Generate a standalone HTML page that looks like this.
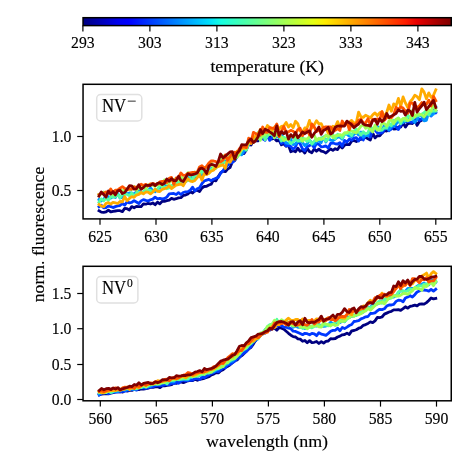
<!DOCTYPE html>
<html lang="en"><head><meta charset="utf-8"><title>NV fluorescence spectra</title>
<style>html,body{margin:0;padding:0;background:#fff}svg{display:block}</style></head>
<body>
<svg width="469" height="469" viewBox="0 0 469 469" font-family='"Liberation Serif", serif' font-size="16" fill="#000"><style>text{stroke:#000;stroke-width:0.15px}</style>
<rect width="469" height="469" fill="#fff"/>
<defs><linearGradient id="jet" x1="0" y1="0" x2="1" y2="0"><stop offset="0.00%" stop-color="#000080"/><stop offset="3.12%" stop-color="#0000a4"/><stop offset="6.25%" stop-color="#0000c8"/><stop offset="9.38%" stop-color="#0000ed"/><stop offset="12.50%" stop-color="#0000ff"/><stop offset="15.62%" stop-color="#0020ff"/><stop offset="18.75%" stop-color="#0040ff"/><stop offset="21.88%" stop-color="#0060ff"/><stop offset="25.00%" stop-color="#0080ff"/><stop offset="28.12%" stop-color="#00a0ff"/><stop offset="31.25%" stop-color="#00c0ff"/><stop offset="34.38%" stop-color="#00e0fb"/><stop offset="37.50%" stop-color="#16ffe1"/><stop offset="40.62%" stop-color="#30ffc7"/><stop offset="43.75%" stop-color="#49ffad"/><stop offset="46.88%" stop-color="#63ff94"/><stop offset="50.00%" stop-color="#7dff7a"/><stop offset="53.12%" stop-color="#97ff60"/><stop offset="56.25%" stop-color="#b1ff46"/><stop offset="59.38%" stop-color="#caff2c"/><stop offset="62.50%" stop-color="#e4ff13"/><stop offset="65.62%" stop-color="#feed00"/><stop offset="68.75%" stop-color="#ffd000"/><stop offset="71.88%" stop-color="#ffb200"/><stop offset="75.00%" stop-color="#ff9400"/><stop offset="78.12%" stop-color="#ff7700"/><stop offset="81.25%" stop-color="#ff5900"/><stop offset="84.38%" stop-color="#ff3b00"/><stop offset="87.50%" stop-color="#ff1e00"/><stop offset="90.62%" stop-color="#e80000"/><stop offset="93.75%" stop-color="#c40000"/><stop offset="96.88%" stop-color="#9f0000"/><stop offset="100.00%" stop-color="#800000"/></linearGradient></defs>
<rect x="83.05" y="17.7" width="368.2" height="7.9" fill="url(#jet)" stroke="#000" stroke-width="1.5"/>
<line x1="82.9" x2="82.9" y1="25.55" y2="31.4" stroke="#000" stroke-width="1.2"/>
<text x="82.9" y="48.2" text-anchor="middle" textLength="23.6" lengthAdjust="spacingAndGlyphs">293</text>
<line x1="149.9" x2="149.9" y1="25.55" y2="31.4" stroke="#000" stroke-width="1.2"/>
<text x="149.9" y="48.2" text-anchor="middle" textLength="23.6" lengthAdjust="spacingAndGlyphs">303</text>
<line x1="216.9" x2="216.9" y1="25.55" y2="31.4" stroke="#000" stroke-width="1.2"/>
<text x="216.9" y="48.2" text-anchor="middle" textLength="23.6" lengthAdjust="spacingAndGlyphs">313</text>
<line x1="283.9" x2="283.9" y1="25.55" y2="31.4" stroke="#000" stroke-width="1.2"/>
<text x="283.9" y="48.2" text-anchor="middle" textLength="23.6" lengthAdjust="spacingAndGlyphs">323</text>
<line x1="350.9" x2="350.9" y1="25.55" y2="31.4" stroke="#000" stroke-width="1.2"/>
<text x="350.9" y="48.2" text-anchor="middle" textLength="23.6" lengthAdjust="spacingAndGlyphs">333</text>
<line x1="417.9" x2="417.9" y1="25.55" y2="31.4" stroke="#000" stroke-width="1.2"/>
<text x="417.9" y="48.2" text-anchor="middle" textLength="23.6" lengthAdjust="spacingAndGlyphs">343</text>
<text x="267.2" y="71.6" text-anchor="middle" textLength="113.6" lengthAdjust="spacingAndGlyphs">temperature (K)</text>
<line x1="100.0" x2="100.0" y1="218.85" y2="224.7" stroke="#000" stroke-width="1.2"/>
<text x="100.0" y="241.7" text-anchor="middle" textLength="23.6" lengthAdjust="spacingAndGlyphs">625</text>
<line x1="156.0" x2="156.0" y1="218.85" y2="224.7" stroke="#000" stroke-width="1.2"/>
<text x="156.0" y="241.7" text-anchor="middle" textLength="23.6" lengthAdjust="spacingAndGlyphs">630</text>
<line x1="211.9" x2="211.9" y1="218.85" y2="224.7" stroke="#000" stroke-width="1.2"/>
<text x="211.9" y="241.7" text-anchor="middle" textLength="23.6" lengthAdjust="spacingAndGlyphs">635</text>
<line x1="267.9" x2="267.9" y1="218.85" y2="224.7" stroke="#000" stroke-width="1.2"/>
<text x="267.9" y="241.7" text-anchor="middle" textLength="23.6" lengthAdjust="spacingAndGlyphs">640</text>
<line x1="323.9" x2="323.9" y1="218.85" y2="224.7" stroke="#000" stroke-width="1.2"/>
<text x="323.9" y="241.7" text-anchor="middle" textLength="23.6" lengthAdjust="spacingAndGlyphs">645</text>
<line x1="379.8" x2="379.8" y1="218.85" y2="224.7" stroke="#000" stroke-width="1.2"/>
<text x="379.8" y="241.7" text-anchor="middle" textLength="23.6" lengthAdjust="spacingAndGlyphs">650</text>
<line x1="435.8" x2="435.8" y1="218.85" y2="224.7" stroke="#000" stroke-width="1.2"/>
<text x="435.8" y="241.7" text-anchor="middle" textLength="23.6" lengthAdjust="spacingAndGlyphs">655</text>
<line x1="77.2" x2="83.05" y1="190.5" y2="190.5" stroke="#000" stroke-width="1.2"/>
<text x="71.4" y="196.1" text-anchor="end" textLength="19.6" lengthAdjust="spacingAndGlyphs">0.5</text>
<line x1="77.2" x2="83.05" y1="136.5" y2="136.5" stroke="#000" stroke-width="1.2"/>
<text x="71.4" y="142.1" text-anchor="end" textLength="19.6" lengthAdjust="spacingAndGlyphs">1.0</text>
<clipPath id="c1"><rect x="83.05" y="84.3" width="368.2" height="134.6"/></clipPath>
<g clip-path="url(#c1)">
<polyline points="99.0,210.8 101.3,212.1 103.7,212.4 106.0,211.9 108.4,210.1 110.7,211.9 113.0,211.3 115.4,211.0 117.7,210.7 120.0,210.7 122.4,211.6 124.7,208.4 127.1,208.7 129.4,210.0 131.7,206.6 134.1,207.8 136.4,206.4 138.8,206.6 141.1,206.7 143.4,203.8 145.8,204.2 148.1,203.3 150.5,204.0 152.8,203.0 155.1,204.7 157.5,202.1 159.8,203.9 162.2,201.3 164.5,201.4 166.8,200.7 169.2,200.1 171.5,198.4 173.8,199.3 176.2,198.7 178.5,197.9 180.9,197.7 183.2,195.4 185.5,195.1 187.9,193.9 190.2,191.8 192.6,193.0 194.9,190.8 197.2,190.2 199.6,191.6 201.9,188.0 204.2,186.5 206.6,186.3 208.9,185.0 211.3,184.2 213.6,179.7 215.9,180.9 218.3,176.4 220.6,172.9 223.0,171.1 225.3,171.7 227.6,169.1 230.0,167.6 232.3,162.0 234.7,160.5 237.0,156.7 239.3,153.0 241.7,153.7 244.0,153.5 246.3,149.9 248.7,144.0 251.0,145.1 253.4,140.3 255.7,140.8 258.0,140.8 260.4,137.7 262.7,136.1 265.1,138.4 267.4,136.7 269.7,136.1 272.1,139.0 274.4,138.5 276.8,140.9 279.1,140.1 281.4,144.8 283.8,143.7 286.1,146.3 288.5,145.3 290.8,151.7 293.1,150.7 295.5,151.8 297.8,148.2 300.1,151.3 302.5,150.3 304.8,153.0 307.2,148.4 309.5,151.6 311.8,152.7 314.2,149.0 316.5,151.2 318.9,149.2 321.2,151.1 323.5,151.6 325.9,153.1 328.2,150.9 330.6,149.0 332.9,150.4 335.2,148.7 337.6,149.6 339.9,145.8 342.2,148.1 344.6,145.1 346.9,144.3 349.3,144.7 351.6,141.2 353.9,140.5 356.3,141.6 358.6,139.8 361.0,139.4 363.3,137.8 365.6,137.3 368.0,138.8 370.3,140.1 372.7,133.2 375.0,137.9 377.3,135.7 379.7,135.9 382.0,133.2 384.3,130.7 386.7,131.0 389.0,128.9 391.4,126.7 393.7,129.0 396.0,128.9 398.4,127.0 400.7,127.1 403.1,122.8 405.4,127.1 407.7,123.8 410.1,123.2 412.4,123.6 414.8,119.9 417.1,125.4 419.4,121.5 421.8,120.3 424.1,116.9 426.4,113.8 428.8,115.1 431.1,111.2 433.5,112.0 435.8,110.6" fill="none" stroke="#000080" stroke-width="2.8" stroke-linejoin="round" stroke-linecap="square"/>
<polyline points="99.0,206.9 101.3,205.2 103.7,207.8 106.0,207.6 108.4,206.1 110.7,206.5 113.0,207.6 115.4,206.6 117.7,205.9 120.0,205.5 122.4,203.5 124.7,205.1 127.1,201.9 129.4,202.9 131.7,202.4 134.1,200.6 136.4,202.0 138.8,203.5 141.1,200.9 143.4,199.6 145.8,200.4 148.1,201.0 150.5,199.8 152.8,199.1 155.1,197.1 157.5,198.8 159.8,198.3 162.2,198.8 164.5,198.5 166.8,197.1 169.2,193.9 171.5,193.6 173.8,193.5 176.2,194.5 178.5,192.6 180.9,194.5 183.2,192.5 185.5,191.9 187.9,191.6 190.2,190.3 192.6,187.2 194.9,191.0 197.2,188.8 199.6,187.8 201.9,183.7 204.2,181.0 206.6,180.1 208.9,179.4 211.3,180.7 213.6,179.2 215.9,178.3 218.3,177.4 220.6,173.1 223.0,170.7 225.3,167.6 227.6,165.5 230.0,162.1 232.3,162.6 234.7,160.1 237.0,156.7 239.3,153.7 241.7,153.6 244.0,152.4 246.3,147.4 248.7,145.1 251.0,141.2 253.4,140.3 255.7,139.3 258.0,138.6 260.4,137.4 262.7,138.8 265.1,140.2 267.4,135.6 269.7,140.4 272.1,137.3 274.4,138.0 276.8,135.5 279.1,136.1 281.4,143.4 283.8,141.1 286.1,145.8 288.5,145.4 290.8,146.6 293.1,149.2 295.5,146.9 297.8,141.0 300.1,143.8 302.5,148.8 304.8,150.6 307.2,146.7 309.5,145.6 311.8,144.3 314.2,147.8 316.5,143.4 318.9,144.4 321.2,146.8 323.5,146.7 325.9,145.9 328.2,148.1 330.6,143.4 332.9,143.0 335.2,143.8 337.6,144.0 339.9,142.6 342.2,146.3 344.6,140.5 346.9,142.2 349.3,139.1 351.6,140.2 353.9,138.1 356.3,137.6 358.6,141.0 361.0,136.5 363.3,140.0 365.6,134.5 368.0,134.5 370.3,137.0 372.7,129.1 375.0,130.1 377.3,132.8 379.7,133.1 382.0,132.6 384.3,129.9 386.7,126.8 389.0,130.7 391.4,129.1 393.7,124.9 396.0,126.6 398.4,129.5 400.7,124.9 403.1,121.2 405.4,122.0 407.7,121.3 410.1,122.0 412.4,122.5 414.8,117.5 417.1,117.3 419.4,120.3 421.8,118.8 424.1,119.4 426.4,112.0 428.8,112.3 431.1,116.1 433.5,110.6 435.8,112.8" fill="none" stroke="#0038ff" stroke-width="2.8" stroke-linejoin="round" stroke-linecap="square"/>
<polyline points="99.0,199.5 101.3,201.0 103.7,199.2 106.0,196.4 108.4,196.6 110.7,198.0 113.0,196.5 115.4,197.6 117.7,193.4 120.0,198.0 122.4,197.3 124.7,192.8 127.1,193.8 129.4,193.0 131.7,192.9 134.1,194.2 136.4,191.8 138.8,190.9 141.1,192.5 143.4,192.9 145.8,190.1 148.1,190.6 150.5,187.9 152.8,190.6 155.1,191.9 157.5,189.1 159.8,187.7 162.2,184.4 164.5,186.3 166.8,183.3 169.2,186.7 171.5,187.6 173.8,186.5 176.2,184.1 178.5,183.9 180.9,181.6 183.2,182.2 185.5,181.5 187.9,180.3 190.2,175.4 192.6,179.0 194.9,178.4 197.2,175.5 199.6,176.4 201.9,176.0 204.2,170.1 206.6,174.0 208.9,170.6 211.3,168.4 213.6,169.4 215.9,166.7 218.3,165.9 220.6,163.7 223.0,163.0 225.3,160.6 227.6,160.3 230.0,157.9 232.3,155.9 234.7,158.9 237.0,155.3 239.3,154.3 241.7,154.8 244.0,150.3 246.3,146.2 248.7,141.2 251.0,142.8 253.4,140.3 255.7,140.3 258.0,136.6 260.4,135.0 262.7,130.2 265.1,135.5 267.4,130.5 269.7,132.9 272.1,135.5 274.4,135.2 276.8,135.8 279.1,138.0 281.4,134.2 283.8,139.3 286.1,143.0 288.5,143.7 290.8,138.9 293.1,144.6 295.5,143.8 297.8,140.8 300.1,140.0 302.5,142.5 304.8,145.6 307.2,143.6 309.5,140.4 311.8,142.5 314.2,144.4 316.5,141.8 318.9,140.8 321.2,142.6 323.5,136.9 325.9,142.1 328.2,137.9 330.6,140.2 332.9,140.7 335.2,139.0 337.6,137.1 339.9,137.2 342.2,139.2 344.6,133.8 346.9,134.1 349.3,136.2 351.6,136.7 353.9,134.4 356.3,132.7 358.6,135.0 361.0,132.1 363.3,137.2 365.6,135.1 368.0,135.9 370.3,128.9 372.7,129.5 375.0,129.4 377.3,126.6 379.7,127.7 382.0,130.6 384.3,125.3 386.7,126.3 389.0,129.9 391.4,126.3 393.7,126.0 396.0,124.1 398.4,121.8 400.7,121.7 403.1,122.5 405.4,119.7 407.7,120.6 410.1,118.7 412.4,119.0 414.8,122.5 417.1,119.5 419.4,114.1 421.8,116.3 424.1,120.9 426.4,120.3 428.8,112.1 431.1,115.6 433.5,114.0 435.8,106.9" fill="none" stroke="#0094ff" stroke-width="2.8" stroke-linejoin="round" stroke-linecap="square"/>
<polyline points="99.0,202.3 101.3,198.8 103.7,200.8 106.0,198.0 108.4,200.4 110.7,196.6 113.0,197.2 115.4,196.8 117.7,194.4 120.0,197.8 122.4,194.1 124.7,194.0 127.1,194.4 129.4,195.7 131.7,193.1 134.1,196.4 136.4,193.2 138.8,192.4 141.1,192.9 143.4,191.6 145.8,189.9 148.1,190.1 150.5,190.5 152.8,192.0 155.1,189.6 157.5,189.3 159.8,184.8 162.2,187.1 164.5,186.8 166.8,188.8 169.2,187.9 171.5,185.1 173.8,185.0 176.2,183.4 178.5,181.7 180.9,182.1 183.2,180.7 185.5,181.0 187.9,180.7 190.2,178.4 192.6,179.5 194.9,174.9 197.2,175.8 199.6,175.1 201.9,170.6 204.2,173.7 206.6,172.8 208.9,173.4 211.3,169.3 213.6,169.3 215.9,168.3 218.3,163.1 220.6,165.4 223.0,161.0 225.3,162.9 227.6,162.4 230.0,160.1 232.3,154.1 234.7,159.4 237.0,155.4 239.3,155.1 241.7,149.6 244.0,147.7 246.3,150.2 248.7,142.7 251.0,139.7 253.4,138.0 255.7,139.9 258.0,132.8 260.4,134.6 262.7,132.4 265.1,139.7 267.4,136.1 269.7,133.8 272.1,134.5 274.4,134.0 276.8,134.2 279.1,135.7 281.4,141.1 283.8,137.3 286.1,138.3 288.5,140.4 290.8,143.6 293.1,141.9 295.5,138.6 297.8,141.1 300.1,141.0 302.5,138.0 304.8,139.2 307.2,141.5 309.5,139.6 311.8,144.2 314.2,141.1 316.5,139.1 318.9,139.8 321.2,137.7 323.5,138.1 325.9,141.1 328.2,138.8 330.6,134.2 332.9,135.0 335.2,138.8 337.6,134.3 339.9,135.5 342.2,138.1 344.6,134.4 346.9,133.6 349.3,132.8 351.6,135.7 353.9,131.0 356.3,129.2 358.6,131.9 361.0,135.1 363.3,131.6 365.6,134.0 368.0,132.8 370.3,126.6 372.7,129.0 375.0,128.1 377.3,127.8 379.7,130.2 382.0,130.1 384.3,127.8 386.7,128.2 389.0,123.0 391.4,125.8 393.7,120.3 396.0,121.2 398.4,118.1 400.7,123.7 403.1,118.7 405.4,121.0 407.7,114.9 410.1,118.2 412.4,119.0 414.8,116.5 417.1,116.0 419.4,115.3 421.8,114.1 424.1,112.6 426.4,110.6 428.8,115.0 431.1,111.6 433.5,111.2 435.8,111.2" fill="none" stroke="#56ffa0" stroke-width="2.8" stroke-linejoin="round" stroke-linecap="square"/>
<polyline points="99.0,194.5 101.3,194.1 103.7,192.0 106.0,192.6 108.4,192.2 110.7,191.9 113.0,194.7 115.4,190.7 117.7,190.3 120.0,189.6 122.4,191.5 124.7,188.9 127.1,189.0 129.4,190.1 131.7,189.5 134.1,186.5 136.4,190.4 138.8,187.6 141.1,188.3 143.4,186.9 145.8,188.7 148.1,185.0 150.5,184.1 152.8,185.3 155.1,186.4 157.5,183.7 159.8,184.7 162.2,185.2 164.5,179.9 166.8,183.9 169.2,183.0 171.5,179.7 173.8,179.8 176.2,178.5 178.5,180.1 180.9,176.9 183.2,178.4 185.5,179.0 187.9,172.6 190.2,175.6 192.6,173.7 194.9,172.0 197.2,172.7 199.6,170.6 201.9,166.8 204.2,167.5 206.6,167.5 208.9,165.0 211.3,162.8 213.6,169.1 215.9,166.1 218.3,164.8 220.6,161.3 223.0,155.8 225.3,158.3 227.6,158.8 230.0,155.6 232.3,154.2 234.7,155.0 237.0,157.5 239.3,152.2 241.7,150.1 244.0,145.9 246.3,148.5 248.7,143.4 251.0,140.2 253.4,137.9 255.7,136.0 258.0,136.8 260.4,140.3 262.7,134.5 265.1,135.1 267.4,131.6 269.7,134.3 272.1,130.2 274.4,137.9 276.8,133.6 279.1,136.8 281.4,136.7 283.8,140.6 286.1,139.3 288.5,140.0 290.8,135.1 293.1,136.7 295.5,136.8 297.8,136.9 300.1,137.1 302.5,141.3 304.8,138.8 307.2,138.9 309.5,136.5 311.8,136.3 314.2,135.1 316.5,140.8 318.9,138.3 321.2,139.5 323.5,138.2 325.9,135.1 328.2,136.9 330.6,131.4 332.9,137.9 335.2,135.7 337.6,135.6 339.9,134.7 342.2,135.4 344.6,132.7 346.9,132.7 349.3,130.4 351.6,131.0 353.9,131.9 356.3,133.0 358.6,129.3 361.0,126.2 363.3,124.6 365.6,128.3 368.0,126.6 370.3,129.6 372.7,131.9 375.0,125.1 377.3,130.1 379.7,129.3 382.0,122.9 384.3,123.6 386.7,126.0 389.0,121.1 391.4,119.8 393.7,123.8 396.0,119.2 398.4,118.1 400.7,120.9 403.1,118.6 405.4,118.2 407.7,120.8 410.1,119.7 412.4,110.5 414.8,117.3 417.1,114.0 419.4,114.2 421.8,114.9 424.1,117.1 426.4,113.5 428.8,110.1 431.1,111.0 433.5,104.6 435.8,110.0" fill="none" stroke="#a0ff56" stroke-width="2.8" stroke-linejoin="round" stroke-linecap="square"/>
<polyline points="99.0,204.5 101.3,206.0 103.7,206.6 106.0,203.4 108.4,202.7 110.7,204.1 113.0,202.3 115.4,202.9 117.7,203.5 120.0,201.5 122.4,201.8 124.7,196.5 127.1,200.7 129.4,198.4 131.7,196.7 134.1,197.3 136.4,195.1 138.8,194.4 141.1,192.4 143.4,193.8 145.8,192.0 148.1,192.1 150.5,193.9 152.8,192.0 155.1,189.2 157.5,191.3 159.8,191.5 162.2,189.3 164.5,188.7 166.8,187.8 169.2,185.7 171.5,188.5 173.8,186.8 176.2,185.2 178.5,184.6 180.9,183.7 183.2,185.8 185.5,181.9 187.9,178.7 190.2,181.1 192.6,181.6 194.9,180.4 197.2,177.6 199.6,174.4 201.9,180.3 204.2,173.7 206.6,174.7 208.9,173.1 211.3,171.0 213.6,170.2 215.9,167.5 218.3,166.4 220.6,165.6 223.0,164.7 225.3,168.4 227.6,159.5 230.0,162.3 232.3,158.3 234.7,155.4 237.0,151.1 239.3,152.2 241.7,147.8 244.0,148.6 246.3,146.4 248.7,140.1 251.0,143.6 253.4,137.9 255.7,136.0 258.0,133.9 260.4,129.3 262.7,130.6 265.1,130.4 267.4,125.5 269.7,127.6 272.1,130.4 274.4,127.2 276.8,124.9 279.1,129.1 281.4,126.4 283.8,125.8 286.1,122.5 288.5,127.1 290.8,124.5 293.1,127.7 295.5,121.2 297.8,123.7 300.1,131.1 302.5,131.9 304.8,128.0 307.2,127.7 309.5,120.4 311.8,128.2 314.2,124.9 316.5,120.7 318.9,123.9 321.2,123.7 323.5,128.6 325.9,127.2 328.2,133.3 330.6,130.5 332.9,126.2 335.2,127.1 337.6,121.6 339.9,127.0 342.2,123.0 344.6,123.9 346.9,123.8 349.3,122.3 351.6,120.4 353.9,123.1 356.3,122.5 358.6,112.1 361.0,116.9 363.3,117.4 365.6,115.3 368.0,116.6 370.3,117.8 372.7,114.8 375.0,112.9 377.3,115.7 379.7,112.8 382.0,111.8 384.3,116.5 386.7,112.5 389.0,105.0 391.4,111.3 393.7,103.9 396.0,105.9 398.4,98.4 400.7,106.4 403.1,96.9 405.4,102.9 407.7,107.3 410.1,101.8 412.4,99.2 414.8,95.2 417.1,96.7 419.4,99.7 421.8,88.9 424.1,92.1 426.4,98.8 428.8,92.9 431.1,97.3 433.5,95.2 435.8,89.8" fill="none" stroke="#ffab00" stroke-width="2.8" stroke-linejoin="round" stroke-linecap="square"/>
<polyline points="99.0,194.6 101.3,193.3 103.7,193.3 106.0,191.8 108.4,193.3 110.7,188.9 113.0,192.9 115.4,190.2 117.7,190.0 120.0,188.1 122.4,186.7 124.7,188.3 127.1,189.9 129.4,188.7 131.7,189.3 134.1,187.0 136.4,187.3 138.8,186.3 141.1,184.2 143.4,185.4 145.8,184.3 148.1,186.1 150.5,183.8 152.8,183.6 155.1,184.1 157.5,184.3 159.8,181.9 162.2,181.4 164.5,181.4 166.8,182.5 169.2,178.3 171.5,177.4 173.8,184.4 176.2,178.0 178.5,177.8 180.9,173.0 183.2,175.4 185.5,175.2 187.9,173.4 190.2,172.8 192.6,172.3 194.9,172.3 197.2,172.4 199.6,166.9 201.9,165.6 204.2,168.3 206.6,166.4 208.9,163.0 211.3,160.8 213.6,161.0 215.9,161.6 218.3,161.9 220.6,161.8 223.0,160.1 225.3,154.9 227.6,160.2 230.0,156.6 232.3,153.5 234.7,152.2 237.0,153.5 239.3,148.8 241.7,147.4 244.0,146.5 246.3,147.8 248.7,138.2 251.0,142.4 253.4,132.3 255.7,133.6 258.0,134.7 260.4,135.1 262.7,127.0 265.1,132.2 267.4,132.3 269.7,127.6 272.1,128.1 274.4,128.6 276.8,123.9 279.1,136.6 281.4,131.3 283.8,126.4 286.1,132.0 288.5,131.9 290.8,130.3 293.1,131.3 295.5,133.6 297.8,129.6 300.1,128.2 302.5,135.7 304.8,131.8 307.2,129.4 309.5,135.0 311.8,123.8 314.2,126.8 316.5,131.6 318.9,130.1 321.2,130.1 323.5,127.4 325.9,126.9 328.2,126.9 330.6,127.0 332.9,129.7 335.2,130.3 337.6,128.6 339.9,130.5 342.2,121.0 344.6,125.1 346.9,121.9 349.3,129.7 351.6,123.3 353.9,125.3 356.3,123.6 358.6,120.2 361.0,119.2 363.3,122.9 365.6,123.0 368.0,118.7 370.3,125.0 372.7,119.1 375.0,120.9 377.3,118.8 379.7,120.0 382.0,111.7 384.3,120.4 386.7,117.6 389.0,116.8 391.4,117.6 393.7,114.9 396.0,107.4 398.4,109.5 400.7,106.9 403.1,108.1 405.4,111.0 407.7,113.2 410.1,103.0 412.4,103.2 414.8,106.4 417.1,107.4 419.4,105.8 421.8,102.6 424.1,105.1 426.4,104.3 428.8,100.1 431.1,106.0 433.5,96.5 435.8,100.8" fill="none" stroke="#ff5500" stroke-width="2.8" stroke-linejoin="round" stroke-linecap="square"/>
<polyline points="99.0,196.2 101.3,192.0 103.7,194.5 106.0,197.1 108.4,191.0 110.7,194.1 113.0,191.6 115.4,194.9 117.7,190.8 120.0,190.1 122.4,193.6 124.7,192.5 127.1,189.1 129.4,185.7 131.7,185.8 134.1,189.2 136.4,188.8 138.8,184.8 141.1,189.3 143.4,187.6 145.8,185.1 148.1,185.4 150.5,185.5 152.8,183.6 155.1,185.6 157.5,183.4 159.8,182.9 162.2,184.6 164.5,183.2 166.8,178.9 169.2,181.3 171.5,178.7 173.8,180.6 176.2,180.6 178.5,176.3 180.9,180.5 183.2,181.5 185.5,177.8 187.9,173.8 190.2,174.8 192.6,174.7 194.9,174.0 197.2,173.0 199.6,168.9 201.9,168.1 204.2,169.7 206.6,173.6 208.9,166.2 211.3,164.4 213.6,164.8 215.9,166.4 218.3,161.4 220.6,154.0 223.0,157.8 225.3,156.2 227.6,154.1 230.0,152.0 232.3,151.7 234.7,159.4 237.0,153.4 239.3,150.6 241.7,144.7 244.0,144.9 246.3,144.8 248.7,141.0 251.0,138.9 253.4,142.6 255.7,140.6 258.0,137.0 260.4,129.6 262.7,133.7 265.1,129.3 267.4,130.2 269.7,131.9 272.1,133.5 274.4,135.7 276.8,125.8 279.1,135.3 281.4,131.7 283.8,133.7 286.1,131.4 288.5,139.1 290.8,134.6 293.1,137.2 295.5,132.4 297.8,137.8 300.1,135.3 302.5,132.0 304.8,133.6 307.2,132.0 309.5,131.0 311.8,137.2 314.2,133.4 316.5,130.9 318.9,126.9 321.2,134.3 323.5,130.6 325.9,129.3 328.2,127.3 330.6,134.0 332.9,132.5 335.2,127.2 337.6,126.1 339.9,125.9 342.2,126.2 344.6,126.0 346.9,121.1 349.3,122.9 351.6,124.6 353.9,127.6 356.3,125.6 358.6,124.0 361.0,120.5 363.3,124.1 365.6,125.2 368.0,125.3 370.3,126.1 372.7,120.5 375.0,119.2 377.3,124.2 379.7,118.8 382.0,121.7 384.3,119.3 386.7,113.5 389.0,117.7 391.4,116.1 393.7,114.8 396.0,113.6 398.4,109.8 400.7,111.4 403.1,110.8 405.4,115.1 407.7,110.1 410.1,111.1 412.4,115.5 414.8,102.4 417.1,112.1 419.4,108.5 421.8,105.8 424.1,102.2 426.4,109.7 428.8,106.6 431.1,103.6 433.5,100.4 435.8,107.4" fill="none" stroke="#800000" stroke-width="2.8" stroke-linejoin="round" stroke-linecap="square"/>
</g>
<rect x="83.05" y="84.3" width="368.2" height="134.6" fill="none" stroke="#000" stroke-width="1.5"/>
<line x1="100.3" x2="100.3" y1="400.8" y2="406.6" stroke="#000" stroke-width="1.2"/>
<text x="100.3" y="423.8" text-anchor="middle" textLength="23.6" lengthAdjust="spacingAndGlyphs">560</text>
<line x1="156.3" x2="156.3" y1="400.8" y2="406.6" stroke="#000" stroke-width="1.2"/>
<text x="156.3" y="423.8" text-anchor="middle" textLength="23.6" lengthAdjust="spacingAndGlyphs">565</text>
<line x1="212.4" x2="212.4" y1="400.8" y2="406.6" stroke="#000" stroke-width="1.2"/>
<text x="212.4" y="423.8" text-anchor="middle" textLength="23.6" lengthAdjust="spacingAndGlyphs">570</text>
<line x1="268.4" x2="268.4" y1="400.8" y2="406.6" stroke="#000" stroke-width="1.2"/>
<text x="268.4" y="423.8" text-anchor="middle" textLength="23.6" lengthAdjust="spacingAndGlyphs">575</text>
<line x1="324.4" x2="324.4" y1="400.8" y2="406.6" stroke="#000" stroke-width="1.2"/>
<text x="324.4" y="423.8" text-anchor="middle" textLength="23.6" lengthAdjust="spacingAndGlyphs">580</text>
<line x1="380.5" x2="380.5" y1="400.8" y2="406.6" stroke="#000" stroke-width="1.2"/>
<text x="380.5" y="423.8" text-anchor="middle" textLength="23.6" lengthAdjust="spacingAndGlyphs">585</text>
<line x1="436.5" x2="436.5" y1="400.8" y2="406.6" stroke="#000" stroke-width="1.2"/>
<text x="436.5" y="423.8" text-anchor="middle" textLength="23.6" lengthAdjust="spacingAndGlyphs">590</text>
<line x1="77.2" x2="83.05" y1="399.5" y2="399.5" stroke="#000" stroke-width="1.2"/>
<text x="71.4" y="405.1" text-anchor="end" textLength="19.6" lengthAdjust="spacingAndGlyphs">0.0</text>
<line x1="77.2" x2="83.05" y1="364.5" y2="364.5" stroke="#000" stroke-width="1.2"/>
<text x="71.4" y="370.1" text-anchor="end" textLength="19.6" lengthAdjust="spacingAndGlyphs">0.5</text>
<line x1="77.2" x2="83.05" y1="328.7" y2="328.7" stroke="#000" stroke-width="1.2"/>
<text x="71.4" y="334.3" text-anchor="end" textLength="19.6" lengthAdjust="spacingAndGlyphs">1.0</text>
<line x1="77.2" x2="83.05" y1="293.5" y2="293.5" stroke="#000" stroke-width="1.2"/>
<text x="71.4" y="299.1" text-anchor="end" textLength="19.6" lengthAdjust="spacingAndGlyphs">1.5</text>
<clipPath id="c2"><rect x="83.05" y="266.3" width="368.2" height="134.5"/></clipPath>
<g clip-path="url(#c2)">
<polyline points="99.2,394.7 101.5,394.1 103.9,393.8 106.2,393.8 108.6,393.8 110.9,393.2 113.2,392.6 115.6,391.9 117.9,391.8 120.2,391.6 122.6,392.0 124.9,390.3 127.2,391.1 129.6,390.4 131.9,390.4 134.3,389.2 136.6,389.6 138.9,389.6 141.3,389.0 143.6,389.1 146.0,388.6 148.3,388.2 150.6,387.3 153.0,387.3 155.3,386.8 157.6,386.7 160.0,387.7 162.3,385.9 164.7,385.9 167.0,385.4 169.3,385.1 171.7,384.6 174.0,382.9 176.3,383.4 178.7,382.2 181.0,381.8 183.4,382.6 185.7,381.7 188.0,380.8 190.4,380.4 192.7,380.6 195.0,379.2 197.4,380.3 199.7,379.4 202.1,378.9 204.4,378.3 206.7,377.4 209.1,376.7 211.4,374.9 213.7,374.2 216.1,372.6 218.4,372.9 220.8,370.8 223.1,369.7 225.4,367.6 227.8,366.3 230.1,364.8 232.4,362.8 234.8,360.8 237.1,360.0 239.5,357.2 241.8,355.6 244.1,353.5 246.5,351.1 248.8,348.9 251.1,347.3 253.5,343.9 255.8,340.1 258.2,337.3 260.5,335.1 262.8,332.7 265.2,332.3 267.5,329.8 269.8,330.2 272.2,328.2 274.5,328.2 276.9,330.2 279.2,327.5 281.5,328.2 283.9,329.2 286.2,331.3 288.5,333.3 290.9,335.2 293.2,336.6 295.6,337.0 297.9,338.9 300.2,339.1 302.6,341.3 304.9,340.5 307.2,342.8 309.6,340.6 311.9,342.6 314.3,342.3 316.6,341.5 318.9,343.5 321.3,341.6 323.6,343.1 325.9,341.3 328.3,341.0 330.6,338.6 333.0,338.8 335.3,338.5 337.6,337.0 340.0,336.1 342.3,334.8 344.6,334.5 347.0,333.1 349.3,334.5 351.7,330.9 354.0,330.5 356.3,329.7 358.7,328.2 361.0,327.6 363.3,325.3 365.7,324.6 368.0,323.4 370.4,321.9 372.7,322.7 375.0,320.9 377.4,317.4 379.7,317.6 382.0,317.0 384.4,314.1 386.7,313.1 389.1,312.0 391.4,311.3 393.7,309.9 396.1,309.8 398.4,309.6 400.7,310.4 403.1,308.7 405.4,306.8 407.8,308.2 410.1,306.4 412.4,305.8 414.8,305.1 417.1,305.9 419.4,304.2 421.8,303.8 424.1,304.1 426.5,302.6 428.8,300.5 431.1,298.0 433.5,298.9 435.8,298.4" fill="none" stroke="#000080" stroke-width="2.8" stroke-linejoin="round" stroke-linecap="square"/>
<polyline points="99.2,395.0 101.5,393.5 103.9,392.6 106.2,392.8 108.6,393.7 110.9,392.7 113.2,392.2 115.6,392.1 117.9,391.8 120.2,391.8 122.6,391.1 124.9,391.3 127.2,390.1 129.6,390.0 131.9,389.5 134.3,389.4 136.6,390.1 138.9,388.0 141.3,387.7 143.6,387.8 146.0,388.3 148.3,387.6 150.6,386.7 153.0,386.8 155.3,385.7 157.6,385.4 160.0,385.2 162.3,385.5 164.7,384.6 167.0,384.4 169.3,384.5 171.7,383.2 174.0,383.7 176.3,382.0 178.7,383.2 181.0,380.9 183.4,380.1 185.7,380.9 188.0,380.3 190.4,380.4 192.7,380.0 195.0,378.3 197.4,378.6 199.7,379.5 202.1,377.2 204.4,377.7 206.7,376.0 209.1,374.8 211.4,373.4 213.7,372.7 216.1,371.1 218.4,371.8 220.8,369.6 223.1,367.9 225.4,367.5 227.8,364.9 230.1,364.3 232.4,362.8 234.8,361.1 237.1,358.8 239.5,357.5 241.8,354.4 244.1,353.0 246.5,351.4 248.8,348.5 251.1,346.6 253.5,341.2 255.8,340.6 258.2,337.9 260.5,335.0 262.8,334.0 265.2,333.1 267.5,330.4 269.8,329.4 272.2,327.4 274.5,326.3 276.9,326.0 279.2,324.6 281.5,325.7 283.9,327.1 286.2,327.3 288.5,328.2 290.9,328.7 293.2,331.2 295.6,331.4 297.9,332.5 300.2,333.6 302.6,334.7 304.9,333.3 307.2,333.7 309.6,334.8 311.9,333.3 314.3,333.9 316.6,335.7 318.9,332.7 321.3,334.1 323.6,334.6 325.9,335.3 328.3,333.4 330.6,331.3 333.0,330.4 335.3,330.3 337.6,328.3 340.0,330.8 342.3,327.5 344.6,328.6 347.0,327.1 349.3,325.5 351.7,324.5 354.0,321.5 356.3,321.1 358.7,320.6 361.0,318.9 363.3,318.0 365.7,316.8 368.0,316.5 370.4,313.5 372.7,313.3 375.0,312.9 377.4,310.7 379.7,309.3 382.0,309.6 384.4,308.7 386.7,306.1 389.1,304.9 391.4,305.0 393.7,304.3 396.1,301.4 398.4,300.1 400.7,300.4 403.1,301.8 405.4,298.0 407.8,297.0 410.1,295.7 412.4,297.1 414.8,294.7 417.1,292.0 419.4,291.0 421.8,289.8 424.1,290.0 426.5,290.3 428.8,291.2 431.1,289.4 433.5,291.1 435.8,289.2" fill="none" stroke="#0038ff" stroke-width="2.8" stroke-linejoin="round" stroke-linecap="square"/>
<polyline points="99.2,394.0 101.5,392.5 103.9,392.0 106.2,392.1 108.6,391.5 110.9,392.6 113.2,392.0 115.6,391.5 117.9,391.6 120.2,390.3 122.6,389.6 124.9,390.1 127.2,389.8 129.6,388.8 131.9,389.2 134.3,389.3 136.6,387.9 138.9,387.9 141.3,387.5 143.6,387.2 146.0,387.1 148.3,386.4 150.6,386.4 153.0,384.7 155.3,384.4 157.6,384.7 160.0,383.6 162.3,383.0 164.7,382.9 167.0,382.6 169.3,381.6 171.7,381.8 174.0,381.8 176.3,379.4 178.7,378.6 181.0,379.9 183.4,378.5 185.7,379.5 188.0,379.9 190.4,377.6 192.7,376.9 195.0,376.7 197.4,376.3 199.7,375.5 202.1,374.4 204.4,374.5 206.7,372.3 209.1,373.0 211.4,372.0 213.7,371.9 216.1,370.1 218.4,369.2 220.8,367.0 223.1,366.3 225.4,365.3 227.8,363.9 230.1,361.7 232.4,361.1 234.8,359.0 237.1,355.7 239.5,352.3 241.8,351.3 244.1,350.1 246.5,348.1 248.8,345.5 251.1,343.3 253.5,342.1 255.8,339.0 258.2,335.5 260.5,335.0 262.8,333.8 265.2,329.6 267.5,328.7 269.8,326.9 272.2,324.8 274.5,323.8 276.9,321.4 279.2,321.8 281.5,323.4 283.9,322.5 286.2,322.5 288.5,326.0 290.9,323.9 293.2,327.3 295.6,326.3 297.9,327.3 300.2,327.4 302.6,327.4 304.9,328.5 307.2,327.3 309.6,326.3 311.9,326.9 314.3,324.9 316.6,326.2 318.9,324.4 321.3,325.9 323.6,326.4 325.9,326.0 328.3,324.9 330.6,322.1 333.0,323.8 335.3,325.0 337.6,322.4 340.0,322.7 342.3,320.6 344.6,321.8 347.0,317.0 349.3,317.4 351.7,316.3 354.0,315.9 356.3,314.0 358.7,312.8 361.0,309.0 363.3,312.2 365.7,309.0 368.0,306.9 370.4,307.8 372.7,303.9 375.0,304.4 377.4,304.1 379.7,302.9 382.0,301.4 384.4,300.1 386.7,298.1 389.1,298.6 391.4,295.6 393.7,297.0 396.1,295.4 398.4,293.1 400.7,289.7 403.1,291.9 405.4,291.1 407.8,288.3 410.1,288.4 412.4,288.3 414.8,288.2 417.1,286.1 419.4,284.8 421.8,284.3 424.1,283.0 426.5,285.5 428.8,284.9 431.1,279.4 433.5,280.7 435.8,282.4" fill="none" stroke="#0094ff" stroke-width="2.8" stroke-linejoin="round" stroke-linecap="square"/>
<polyline points="99.2,392.2 101.5,392.0 103.9,392.5 106.2,392.7 108.6,390.9 110.9,392.5 113.2,391.4 115.6,390.1 117.9,389.8 120.2,389.9 122.6,389.3 124.9,388.4 127.2,387.8 129.6,389.1 131.9,387.7 134.3,388.9 136.6,388.9 138.9,386.9 141.3,387.6 143.6,386.0 146.0,387.1 148.3,385.9 150.6,383.9 153.0,384.2 155.3,383.9 157.6,383.8 160.0,384.1 162.3,381.5 164.7,382.2 167.0,383.8 169.3,381.0 171.7,380.3 174.0,380.4 176.3,379.0 178.7,379.9 181.0,379.0 183.4,379.1 185.7,378.8 188.0,378.9 190.4,376.8 192.7,376.8 195.0,374.8 197.4,376.3 199.7,375.1 202.1,374.7 204.4,373.4 206.7,372.9 209.1,373.0 211.4,371.2 213.7,370.5 216.1,369.2 218.4,368.2 220.8,367.6 223.1,365.1 225.4,363.7 227.8,362.0 230.1,360.7 232.4,359.3 234.8,356.9 237.1,355.3 239.5,354.3 241.8,350.9 244.1,348.9 246.5,348.2 248.8,345.0 251.1,343.4 253.5,339.7 255.8,338.5 258.2,339.1 260.5,335.3 262.8,332.3 265.2,330.1 267.5,326.4 269.8,324.7 272.2,324.1 274.5,323.7 276.9,319.3 279.2,323.7 281.5,320.4 283.9,321.6 286.2,320.4 288.5,322.7 290.9,324.7 293.2,325.7 295.6,324.2 297.9,324.5 300.2,325.2 302.6,328.4 304.9,326.2 307.2,327.7 309.6,326.7 311.9,327.9 314.3,326.5 316.6,325.0 318.9,324.5 321.3,326.3 323.6,325.2 325.9,325.1 328.3,325.8 330.6,324.3 333.0,324.4 335.3,322.6 337.6,321.4 340.0,320.6 342.3,320.2 344.6,321.5 347.0,319.2 349.3,317.6 351.7,315.3 354.0,315.1 356.3,315.7 358.7,313.7 361.0,311.5 363.3,310.0 365.7,309.7 368.0,307.7 370.4,307.5 372.7,306.3 375.0,305.4 377.4,302.4 379.7,300.8 382.0,303.3 384.4,299.0 386.7,298.3 389.1,298.3 391.4,298.0 393.7,295.9 396.1,296.2 398.4,291.9 400.7,290.8 403.1,290.7 405.4,291.7 407.8,290.8 410.1,288.9 412.4,289.8 414.8,288.3 417.1,287.0 419.4,285.5 421.8,286.1 424.1,284.2 426.5,284.3 428.8,282.3 431.1,282.2 433.5,282.0 435.8,280.9" fill="none" stroke="#56ffa0" stroke-width="2.8" stroke-linejoin="round" stroke-linecap="square"/>
<polyline points="99.2,392.5 101.5,391.8 103.9,392.9 106.2,391.9 108.6,390.9 110.9,390.0 113.2,389.8 115.6,390.2 117.9,388.4 120.2,389.5 122.6,388.2 124.9,388.2 127.2,388.1 129.6,388.8 131.9,388.0 134.3,388.5 136.6,387.6 138.9,386.0 141.3,386.4 143.6,385.2 146.0,386.9 148.3,384.2 150.6,384.8 153.0,383.2 155.3,383.7 157.6,384.0 160.0,383.2 162.3,382.8 164.7,382.5 167.0,380.7 169.3,380.1 171.7,379.8 174.0,379.7 176.3,378.6 178.7,377.3 181.0,378.4 183.4,377.1 185.7,377.8 188.0,376.5 190.4,375.4 192.7,376.6 195.0,376.4 197.4,375.0 199.7,374.0 202.1,372.7 204.4,374.4 206.7,371.4 209.1,372.2 211.4,372.4 213.7,369.8 216.1,367.2 218.4,368.4 220.8,367.0 223.1,366.7 225.4,362.7 227.8,362.9 230.1,358.9 232.4,359.1 234.8,358.6 237.1,356.3 239.5,353.1 241.8,350.7 244.1,349.2 246.5,346.5 248.8,344.7 251.1,342.8 253.5,339.3 255.8,338.1 258.2,337.1 260.5,332.9 262.8,332.9 265.2,330.9 267.5,326.5 269.8,325.9 272.2,324.0 274.5,320.3 276.9,322.7 279.2,321.9 281.5,319.7 283.9,321.5 286.2,321.9 288.5,325.2 290.9,324.0 293.2,326.1 295.6,325.9 297.9,323.8 300.2,327.4 302.6,326.2 304.9,327.5 307.2,328.9 309.6,327.1 311.9,325.8 314.3,326.1 316.6,325.3 318.9,326.9 321.3,327.1 323.6,322.0 325.9,324.2 328.3,324.3 330.6,326.0 333.0,324.2 335.3,325.5 337.6,325.0 340.0,321.2 342.3,321.5 344.6,321.0 347.0,318.3 349.3,317.8 351.7,315.7 354.0,316.5 356.3,314.1 358.7,314.8 361.0,313.8 363.3,311.9 365.7,311.0 368.0,308.5 370.4,310.2 372.7,308.0 375.0,305.6 377.4,303.5 379.7,303.4 382.0,301.8 384.4,303.8 386.7,300.8 389.1,298.0 391.4,297.5 393.7,295.4 396.1,296.0 398.4,296.1 400.7,295.1 403.1,293.5 405.4,293.4 407.8,294.4 410.1,292.5 412.4,290.9 414.8,287.4 417.1,288.6 419.4,288.7 421.8,290.5 424.1,285.8 426.5,286.6 428.8,284.0 431.1,282.3 433.5,285.6 435.8,281.8" fill="none" stroke="#a0ff56" stroke-width="2.8" stroke-linejoin="round" stroke-linecap="square"/>
<polyline points="99.2,391.4 101.5,392.8 103.9,392.6 106.2,391.4 108.6,391.1 110.9,390.4 113.2,390.7 115.6,390.7 117.9,389.7 120.2,390.4 122.6,389.2 124.9,389.3 127.2,387.0 129.6,389.5 131.9,387.4 134.3,387.9 136.6,386.2 138.9,388.1 141.3,385.7 143.6,384.0 146.0,384.2 148.3,384.6 150.6,383.1 153.0,384.2 155.3,383.0 157.6,380.7 160.0,381.1 162.3,380.9 164.7,381.0 167.0,380.5 169.3,379.5 171.7,378.5 174.0,378.5 176.3,379.2 178.7,377.6 181.0,376.7 183.4,376.6 185.7,377.8 188.0,376.2 190.4,373.5 192.7,375.8 195.0,375.0 197.4,373.7 199.7,372.3 202.1,372.7 204.4,369.0 206.7,371.8 209.1,369.5 211.4,369.0 213.7,369.2 216.1,367.4 218.4,365.5 220.8,363.2 223.1,363.4 225.4,360.2 227.8,359.5 230.1,357.1 232.4,356.9 234.8,353.7 237.1,354.2 239.5,349.2 241.8,348.8 244.1,345.6 246.5,344.9 248.8,343.7 251.1,340.7 253.5,341.3 255.8,339.1 258.2,337.8 260.5,334.9 262.8,333.8 265.2,332.9 267.5,331.5 269.8,328.1 272.2,326.8 274.5,327.6 276.9,324.4 279.2,324.6 281.5,322.9 283.9,322.6 286.2,320.1 288.5,318.2 290.9,320.4 293.2,320.5 295.6,319.5 297.9,319.5 300.2,322.1 302.6,318.9 304.9,320.5 307.2,320.7 309.6,320.5 311.9,320.8 314.3,321.1 316.6,318.8 318.9,319.1 321.3,320.3 323.6,319.9 325.9,319.1 328.3,317.9 330.6,319.1 333.0,318.7 335.3,319.8 337.6,317.8 340.0,317.4 342.3,318.2 344.6,318.2 347.0,314.2 349.3,313.8 351.7,314.8 354.0,308.8 356.3,311.9 358.7,310.3 361.0,309.4 363.3,305.9 365.7,306.1 368.0,302.7 370.4,300.3 372.7,302.3 375.0,300.7 377.4,297.5 379.7,298.0 382.0,293.1 384.4,296.0 386.7,296.8 389.1,294.3 391.4,291.9 393.7,289.4 396.1,288.4 398.4,285.8 400.7,285.4 403.1,286.3 405.4,284.6 407.8,281.6 410.1,281.9 412.4,283.8 414.8,280.6 417.1,279.4 419.4,278.3 421.8,276.0 424.1,274.8 426.5,273.1 428.8,278.2 431.1,273.8 433.5,271.6 435.8,273.5" fill="none" stroke="#ffab00" stroke-width="2.8" stroke-linejoin="round" stroke-linecap="square"/>
<polyline points="99.2,391.5 101.5,390.7 103.9,391.6 106.2,390.7 108.6,389.9 110.9,389.4 113.2,388.6 115.6,387.8 117.9,388.9 120.2,389.6 122.6,387.9 124.9,387.2 127.2,387.3 129.6,387.7 131.9,387.5 134.3,388.5 136.6,385.6 138.9,386.5 141.3,385.5 143.6,384.2 146.0,385.4 148.3,383.7 150.6,383.0 153.0,383.3 155.3,381.7 157.6,382.2 160.0,381.9 162.3,381.1 164.7,379.4 167.0,379.2 169.3,380.9 171.7,378.3 174.0,377.4 176.3,378.5 178.7,377.8 181.0,376.3 183.4,375.2 185.7,374.5 188.0,372.5 190.4,373.2 192.7,374.4 195.0,373.2 197.4,372.7 199.7,372.3 202.1,371.9 204.4,372.0 206.7,370.1 209.1,370.0 211.4,369.4 213.7,366.6 216.1,366.3 218.4,365.1 220.8,363.2 223.1,363.4 225.4,360.4 227.8,357.6 230.1,355.8 232.4,353.7 234.8,354.3 237.1,352.2 239.5,350.7 241.8,350.5 244.1,347.3 246.5,343.1 248.8,343.5 251.1,340.9 253.5,337.9 255.8,336.4 258.2,337.8 260.5,335.7 262.8,332.8 265.2,332.6 267.5,332.2 269.8,328.8 272.2,327.7 274.5,323.0 276.9,323.7 279.2,321.6 281.5,323.7 283.9,322.8 286.2,325.1 288.5,322.5 290.9,322.9 293.2,323.6 295.6,324.9 297.9,325.0 300.2,324.1 302.6,322.5 304.9,324.7 307.2,325.3 309.6,323.0 311.9,319.4 314.3,324.1 316.6,322.1 318.9,322.1 321.3,319.4 323.6,319.5 325.9,320.5 328.3,317.7 330.6,319.5 333.0,319.3 335.3,320.8 337.6,318.9 340.0,316.9 342.3,316.3 344.6,316.7 347.0,314.4 349.3,309.4 351.7,311.8 354.0,310.9 356.3,311.4 358.7,309.8 361.0,308.0 363.3,308.8 365.7,306.4 368.0,303.8 370.4,302.5 372.7,302.0 375.0,297.7 377.4,298.0 379.7,295.3 382.0,294.6 384.4,294.2 386.7,295.7 389.1,295.2 391.4,294.4 393.7,291.7 396.1,288.3 398.4,284.8 400.7,288.8 403.1,284.4 405.4,285.4 407.8,281.4 410.1,285.7 412.4,278.6 414.8,278.7 417.1,280.5 419.4,282.8 421.8,279.3 424.1,279.7 426.5,277.7 428.8,282.0 431.1,280.8 433.5,280.8 435.8,277.8" fill="none" stroke="#ff5500" stroke-width="2.8" stroke-linejoin="round" stroke-linecap="square"/>
<polyline points="99.2,390.5 101.5,388.5 103.9,389.8 106.2,388.7 108.6,388.3 110.9,389.5 113.2,387.9 115.6,389.0 117.9,387.6 120.2,389.9 122.6,388.8 124.9,388.1 127.2,387.5 129.6,386.1 131.9,386.6 134.3,384.5 136.6,385.2 138.9,382.8 141.3,385.0 143.6,383.4 146.0,382.8 148.3,382.4 150.6,383.8 153.0,383.4 155.3,381.8 157.6,382.8 160.0,381.7 162.3,379.7 164.7,379.8 167.0,379.8 169.3,377.4 171.7,377.8 174.0,377.9 176.3,375.7 178.7,376.1 181.0,375.9 183.4,375.4 185.7,375.5 188.0,374.9 190.4,374.9 192.7,373.6 195.0,372.1 197.4,371.5 199.7,370.6 202.1,371.8 204.4,368.5 206.7,369.7 209.1,369.0 211.4,368.4 213.7,367.7 216.1,365.9 218.4,363.4 220.8,361.1 223.1,360.2 225.4,359.5 227.8,359.1 230.1,357.3 232.4,355.4 234.8,354.5 237.1,350.6 239.5,346.3 241.8,345.5 244.1,345.8 246.5,342.7 248.8,340.7 251.1,337.6 253.5,336.9 255.8,336.2 258.2,334.1 260.5,333.9 262.8,333.3 265.2,331.5 267.5,330.8 269.8,328.2 272.2,329.3 274.5,325.6 276.9,322.4 279.2,321.9 281.5,321.5 283.9,322.2 286.2,323.2 288.5,325.2 290.9,321.9 293.2,321.6 295.6,325.2 297.9,321.9 300.2,320.8 302.6,324.7 304.9,318.2 307.2,322.1 309.6,322.9 311.9,322.1 314.3,322.4 316.6,320.8 318.9,319.8 321.3,316.1 323.6,321.2 325.9,319.2 328.3,319.2 330.6,317.0 333.0,315.1 335.3,318.0 337.6,314.3 340.0,314.4 342.3,312.3 344.6,308.6 347.0,311.6 349.3,312.5 351.7,309.0 354.0,308.0 356.3,312.8 358.7,308.8 361.0,306.7 363.3,307.3 365.7,306.1 368.0,302.8 370.4,302.7 372.7,303.4 375.0,299.9 377.4,296.4 379.7,297.8 382.0,298.0 384.4,295.0 386.7,294.7 389.1,292.6 391.4,292.4 393.7,286.0 396.1,286.6 398.4,281.8 400.7,285.5 403.1,280.7 405.4,282.9 407.8,280.0 410.1,284.8 412.4,281.7 414.8,279.5 417.1,279.1 419.4,276.3 421.8,276.5 424.1,278.9 426.5,279.5 428.8,278.6 431.1,277.2 433.5,277.0 435.8,276.2" fill="none" stroke="#800000" stroke-width="2.8" stroke-linejoin="round" stroke-linecap="square"/>
</g>
<rect x="83.05" y="266.3" width="368.2" height="134.5" fill="none" stroke="#000" stroke-width="1.5"/>
<rect x="96.7" y="94.5" width="45.1" height="26.4" rx="4" ry="4" fill="#fff" fill-opacity="0.8" stroke="#e0e0e0" stroke-width="1.5"/>
<text x="101.9" y="111.7" font-size="18" textLength="24.2" lengthAdjust="spacingAndGlyphs">NV</text>
<text x="127.3" y="105.3" font-size="12" textLength="9.3" lengthAdjust="spacingAndGlyphs">−</text>
<rect x="96.7" y="276.5" width="41.2" height="26.4" rx="4" ry="4" fill="#fff" fill-opacity="0.8" stroke="#e0e0e0" stroke-width="1.5"/>
<text x="101.9" y="293.7" font-size="18" textLength="24.2" lengthAdjust="spacingAndGlyphs">NV</text>
<text x="126.9" y="287.4" font-size="11.5">0</text>
<text x="267.1" y="447.0" text-anchor="middle" textLength="122" lengthAdjust="spacingAndGlyphs">wavelength (nm)</text>
<text transform="translate(44.2,234.5) rotate(-90)" text-anchor="middle" textLength="135.6" lengthAdjust="spacingAndGlyphs">norm. fluorescence</text>
</svg>
</body></html>
